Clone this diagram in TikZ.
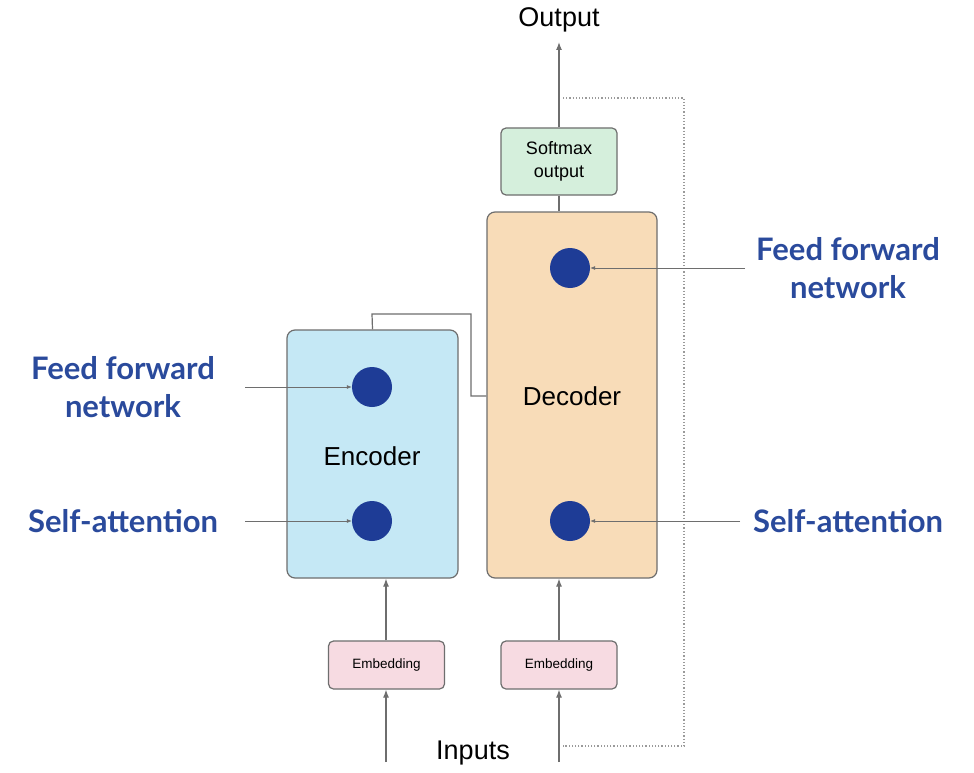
\documentclass[tikz,border=0pt]{standalone}
\usepackage{fontspec}
\setmainfont{Liberation Sans}
\newfontfamily\lato{Lato}
\usetikzlibrary{arrows.meta}
\definecolor{lab}{HTML}{2A4A9C}
\definecolor{dotc}{HTML}{1E3C96}
\definecolor{ln}{HTML}{6E6E6E}
\definecolor{encf}{HTML}{C5E8F5}
\definecolor{decf}{HTML}{F8DCB8}
\definecolor{smf}{HTML}{D5EFDC}
\definecolor{embf}{HTML}{F7DBE2}
\begin{document}
\begin{tikzpicture}[x=1pt,y=-1pt,
  box/.style={draw=ln,line width=1.2pt,rounded corners=8pt,inner sep=0},
  small/.style={box,rounded corners=5pt,minimum width=116pt},
  dotn/.style={circle,fill=dotc,minimum size=40pt,inner sep=0},
  lbl/.style={text=lab,font=\lato\bfseries\fontsize{31}{38}\selectfont,align=center},
  arr/.style={draw=ln,line width=1.2pt,-{Latex[length=8pt,width=6pt]}},
  thin/.style={draw=ln,line width=0.7pt,-{Latex[length=5pt,width=4pt]}}]
\useasboundingbox[fill=white] (0,0) rectangle (974,773);
% dotted feedback
\draw[ln!70,line width=1.2pt,dotted] (563,98) -- (684,98) -- (684,746) -- (563,746);
\node[box,fill=encf,minimum width=171pt,minimum height=248pt] (enc) at (372.5,454) {};
\node[box,fill=decf,minimum width=170pt,minimum height=366pt] (dec) at (572,395) {};
\node[font=\fontsize{26}{30}\selectfont] at (372,456) {Encoder};
\node[font=\fontsize{26}{30}\selectfont] at (572,396) {Decoder};
\node[small,fill=smf,minimum height=67pt,align=center,font=\fontsize{18}{23}\selectfont] (sm) at (559,161.5) {Softmax\\output};
\node[small,fill=embf,minimum height=48pt,font=\fontsize{13.5}{16}\selectfont] (e1) at (386.5,665) {Embedding};
\node[small,fill=embf,minimum height=48pt,font=\fontsize{13.5}{16}\selectfont] (e2) at (559,665) {Embedding};
\node[dotn] (ef) at (372,387) {};
\node[dotn] (es) at (372,521) {};
\node[dotn] (df) at (570,268) {};
\node[dotn] (ds) at (570,521) {};
\node[font=\fontsize{27}{30}\selectfont] (out) at (559,20) {Output};
\node[font=\fontsize{27}{30}\selectfont] (inp) at (473,753) {Inputs};
\coordinate (i1) at (386,762);
\coordinate (i2) at (559,762);
\draw[arr] (i1) -- (e1.south -| i1);
\draw[arr] (i2) -- (e2.south);
\draw[arr] (e1.north -| i1) -- (enc.south -| i1);
\draw[arr] (e2.north) -- (dec.south -| e2);
\draw[line width=1.2pt,ln] (sm.south) -- (dec.north -| sm);
\draw[arr] (sm.north) -- (559,42);
\draw[line width=1.2pt,ln] (enc.north) -- (372,314) -- (471,314) -- (471,396) -- (dec.west |- 0,396);
% labels
\node[lbl] (lff) at (123,387) {Feed forward\\network};
\node[lbl] (lsa) at (123,521) {Self-attention};
\node[lbl] (rff) at (848,268) {Feed forward\\network};
\node[lbl] (rsa) at (848,521) {Self-attention};
\draw[thin] (245,387) -- (ef);
\draw[thin] (245,521) -- (es);
\draw[thin] (745,268) -- (df);
\draw[thin] (740,521) -- (ds);
\end{tikzpicture}
\end{document}
